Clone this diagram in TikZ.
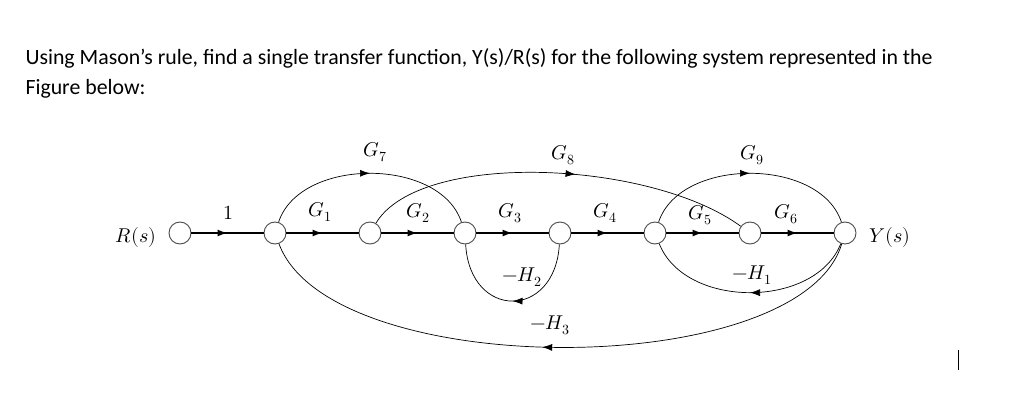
\documentclass[tikz,border=0pt]{standalone}
\usepackage{fontspec}
\setmainfont{Carlito}
\usepackage{unicode-math}
\setmathfont{Latin Modern Math}
\usetikzlibrary{decorations.markings,arrows.meta}
\tikzset{
 sig/.style={circle,draw=black!70,fill=white,line width=0.9pt,minimum size=22pt,inner sep=0pt},
 br/.style={line width=1.4pt,postaction={decorate},decoration={markings,mark=at position #1 with {\arrow{Latex[length=10pt,width=7pt]}}}},
 br/.default=0.5,
 cv/.style={line width=0.7pt,postaction={decorate},decoration={markings,mark=at position #1 with {\arrow{Latex[length=10pt,width=7pt]}}}},
 cv/.default=0.5,
 lab/.style={font=\fontsize{20}{24}\selectfont},
}
\begin{document}
\begin{tikzpicture}[x=1pt,y=-1pt]
\useasboundingbox (0,0) rectangle (1020,412);
\node[anchor=base west,font=\fontsize{21.8}{26}\selectfont] (t1) at (22,65) {Using Mason’s rule, find a single transfer function, Y(s)/R(s) for the following system represented in the};
\node[anchor=base west,font=\fontsize{21.8}{26}\selectfont] (t2) at (22,95) {Figure below:};
\node[sig] (R) at (180,233) {};
\node[sig] (n1) at (275,233) {};
\node[sig] (n2) at (370,233) {};
\node[sig] (n3) at (465,233) {};
\node[sig] (n4) at (560,233) {};
\node[sig] (n5) at (655,233) {};
\node[sig] (n6) at (750,233) {};
\node[sig] (Y) at (845,233) {};
\node[lab] (lR) at (136,237) {$R(s)$};
\node[lab] (lY) at (890,237) {$Y(s)$};
\draw[br] (R) -- (n1);
\draw[br] (n1) -- (n2);
\draw[br] (n2) -- (n3);
\draw[br] (n3) -- (n4);
\draw[br] (n4) -- (n5);
\draw[br] (n5) -- (n6);
\draw[br] (n6) -- (Y);
\node[lab] (l1) at (228,213) {$1$};
\node[lab] (lg1) at (320,212) {$G_1$};
\node[lab] (lg2) at (418,213) {$G_2$};
\node[lab] (lg3) at (510,213) {$G_3$};
\node[lab] (lg4) at (605,213) {$G_4$};
\node[lab] (lg5) at (700,215) {$G_5$};
\node[lab] (lg6) at (786,214) {$G_6$};
\draw[cv] (n1) .. controls (300,157) and (440,157) .. (n3);
\draw[cv=0.55] (n2) .. controls (420,150) and (650,160) .. (n6);
\draw[cv] (n5) .. controls (680,157) and (820,157) .. (Y);
\draw[cv] (n4) .. controls (555,320) and (470,320) .. (n3);
\draw[cv] (Y) .. controls (815,309) and (685,309) .. (n5);
\draw[cv=0.53] (Y) .. controls (800,382) and (330,382) .. (n1);
\node[lab] (lg7) at (375,152) {$G_7$};
\node[lab] (lg8) at (563,155) {$G_8$};
\node[lab] (lg9) at (752,155) {$G_9$};
\node[lab] (lh2) at (522,277) {$-H_2$};
\node[lab] (lh1) at (752,275) {$-H_1$};
\node[lab] (lh3) at (550,325) {$-H_3$};
\draw[line width=0.8pt] (958,350) -- (958,370);
\end{tikzpicture}
\end{document}
